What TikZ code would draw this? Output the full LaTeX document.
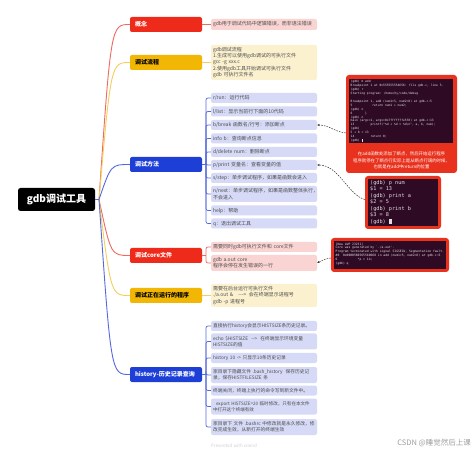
\documentclass[tikz,border=0pt]{standalone}
\usepackage{fontspec}
\setmainfont{Noto Sans CJK SC}
\newfontfamily\termfont{DejaVu Sans Mono}
\usetikzlibrary{arrows.meta}
\definecolor{cRed}{HTML}{EE2A1B}
\definecolor{cYel}{HTML}{F2B705}
\definecolor{cBlu}{HTML}{1E3FD6}
\definecolor{lRed}{HTML}{EE6A60}
\definecolor{lYel}{HTML}{F5CF5A}
\definecolor{lBlu}{HTML}{5569DE}
\definecolor{fRed}{HTML}{FAD4D2}
\definecolor{fYel}{HTML}{FCF1CF}
\definecolor{fBlu}{HTML}{D6DAF6}
\definecolor{leafTxt}{HTML}{4D4D4D}
\definecolor{termBg}{HTML}{2E0A24}
\definecolor{frameRed}{HTML}{E8321E}
\tikzset{
  rootbox/.style={fill=black, rounded corners=2.5pt, text=white, font=\fontsize{10}{12}\selectfont\bfseries, minimum width=77pt, minimum height=23pt, inner sep=0pt},
  branchbox/.style={rounded corners=2pt, minimum width=72pt, minimum height=15pt, text width=62pt, inner xsep=5pt, inner ysep=0pt, align=left, font=\fontsize{6}{7}\selectfont\bfseries},
  leafbox/.style={rounded corners=2pt, text width=102pt, inner xsep=2pt, inner ysep=0pt, align=left, text=leafTxt, font=\fontsize{5}{6.4}\selectfont},
  histleaf/.style={leafbox, fill=fBlu, font=\fontsize{4.75}{6.3}\selectfont},
  hubline/.style={line width=0.9pt},
  treeline/.style={line width=0.7pt, rounded corners=2pt},
  framebox/.style={fill=frameRed, rounded corners=3pt, inner sep=0pt},
  termbox/.style={fill=termBg, inner sep=0pt},
  termtext/.style={text=white!88!black, align=left, inner sep=0pt},
  dashconn/.style={black!80, line width=0.5pt, dash pattern=on 1.6pt off 1.1pt, -{Stealth[length=2.6pt,width=2.2pt]}},
}
\begin{document}
\begin{tikzpicture}[x=1pt,y=-1pt]
\path[use as bounding box, fill=white] (0,0) rectangle (474,454);

% root and branches
\node[rootbox] (root) at (56.5,199.5) {gdb调试工具};
\node[branchbox, fill=cRed, text=white] (b1) at (166,24.5) {概念};
\node[branchbox, fill=cYel, text=black] (b2) at (166,62.5) {调试流程};
\node[branchbox, fill=cBlu, text=white] (b3) at (166,164.5) {调试方法};
\node[branchbox, fill=cRed, text=white] (b4) at (166,255.5) {调试core文件};
\node[branchbox, fill=cYel, text=black] (b5) at (166,295.5) {调试正在运行的程序};
\node[branchbox, fill=cBlu, text=white] (b6) at (166,374.5) {history-历史记录查询};

\coordinate (hub) at (99,199.5);
\draw[hubline, lRed] (root.east) -- (hub) .. controls (111,24.5) .. (b1.west);
\draw[hubline, lYel] (root.east) -- (hub) .. controls (111,62.5) .. (b2.west);
\draw[hubline, lBlu] (root.east) -- (hub) .. controls (111,164.5) .. (b3.west);
\draw[hubline, lRed] (root.east) -- (hub) .. controls (111,255.5) .. (b4.west);
\draw[hubline, lYel] (root.east) -- (hub) .. controls (111,295.5) .. (b5.west);
\draw[hubline, lBlu] (root.east) -- (hub) .. controls (111,374.5) .. (b6.west);

% 概念
\node[leafbox, fill=fRed, minimum height=11pt] (a1) at (264,24.5) {gdb用于调试代码中逻辑错误，而非语法错误};
\draw[treeline, lRed] (b1.east) -- (a1.west);

% 调试流程
\node[leafbox, fill=fYel, minimum height=35pt] (f1) at (264,62.5) {gdb调试流程\\1.生成可以使用gdb调试的可执行文件\\gcc -g xxx.c\\2.使用gdb工具开始调试可执行文件\\gdb 可执行文件名};
\draw[treeline, lYel] (b2.east) -- (f1.west);

% 调试方法
\node[leafbox, fill=fBlu, minimum height=10pt] (m1) at (264,98) {r/run：运行代码};
\node[leafbox, fill=fBlu, minimum height=10pt] (m2) at (264,111.5) {l/list：显示当前行下面的10代码};
\node[leafbox, fill=fBlu, minimum height=10pt] (m3) at (264,125) {b/break 函数名/行号：添加断点};
\node[leafbox, fill=fBlu, minimum height=10pt] (m4) at (264,138.5) {info b：查询断点信息};
\node[leafbox, fill=fBlu, minimum height=10pt] (m5) at (264,152) {d/delete num：删除断点};
\node[leafbox, fill=fBlu, minimum height=10pt] (m6) at (264,165) {p/print 变量名：查看变量的值};
\node[leafbox, fill=fBlu, minimum height=10pt] (m7) at (264,178) {s/step：单步调试程序，如果是函数会进入};
\node[leafbox, fill=fBlu, minimum height=16pt] (m8) at (264,194) {n/next：单步调试程序，如果是函数整体执行，\\不会进入};
\node[leafbox, fill=fBlu, minimum height=10pt] (m9) at (264,210.5) {help：帮助};
\node[leafbox, fill=fBlu, minimum height=10pt] (m10) at (264,223.5) {q：退出调试工具};
\coordinate (j3) at (206,164.5);
\draw[treeline, lBlu] (b3.east) -- (j3);
\foreach \i in {1,...,10} \draw[treeline, lBlu] (j3) |- (m\i.west);

% 调试core文件
\node[leafbox, fill=fRed, minimum height=10pt] (c1) at (264,247) {需要同时gdb可执行文件和 core文件};
\node[leafbox, fill=fRed, minimum height=16pt] (c2) at (264,263) {gdb a.out core\\程序会停在发生错误的一行};
\coordinate (j4) at (206,255.5);
\draw[treeline, lRed] (b4.east) -- (j4);
\foreach \n in {c1,c2} \draw[treeline, lRed] (j4) |- (\n.west);

% 调试正在运行的程序
\node[leafbox, fill=fYel, minimum height=23pt] (r1) at (264,295.5) {需要在后台运行可执行文件\\./a.out \&\quad -{}-{}->\enspace 会在终端显示进程号\\gdb -p 进程号};
\draw[treeline, lYel] (b5.east) -- (r1.west);

% history
\node[histleaf, minimum height=10pt] (h1) at (264,326) {直接执行history会显示HISTSIZE条历史记录。};
\node[histleaf, minimum height=16pt] (h2) at (264,341.5) {echo \$HISTSIZE\ \ -{}->\ \ 在终端显示环境变量\\HISTSIZE的值};
\node[histleaf, minimum height=10pt] (h3) at (264,358) {history 10 -> 只显示10条历史记录};
\node[histleaf, minimum height=16pt] (h4) at (264,375) {家目录下隐藏文件 .bash\_history\ \ 保存历史记\\录，保存HISTFILESIZE 条};
\node[histleaf, minimum height=10pt] (h5) at (264,390.5) {终端关闭，终端上执行的命令写到新文件中。};
\node[histleaf, minimum height=16pt, font=\fontsize{4.55}{6.3}\selectfont] (h6) at (264,406.5) {\hspace*{3pt}export HISTSIZE=20 临时修改，只有在本文件\\中打开这个终端有效};
\node[histleaf, minimum height=16pt] (h7) at (264,427) {家目录下 文件 .bashrc 中修改就是永久修改，修\\改完成生效，从新打开的终端生效};
\coordinate (j6) at (206,374.5);
\draw[treeline, lBlu] (b6.east) -- (j6);
\foreach \i in {1,...,7} \draw[treeline, lBlu] (j6) |- (h\i.west);

% screenshot 1 (breakpoint)
\node[framebox, minimum width=111pt, minimum height=98pt] (img1) at (401.5,124) {};
\node[termbox, minimum width=104pt, minimum height=64pt] (t1) at (401,111) {};
\node[termtext, anchor=north west, font=\termfont\fontsize{3}{3.9}\selectfont] (t1txt) at (350.5,80.5) {(gdb) b add\\
Breakpoint 1 at 0x555555554656: file gdb.c, line 5.\\
(gdb) r\\
Starting program: /home/hy/code/debug\\
\mbox{}\\
Breakpoint 1, add (num1=5, num2=8) at gdb.c:5\\
5\ \ \ \ \ \ \ \ \ \ \ return num1 + num2;\\
(gdb) n\\
6\ \ \ \ \ \ \ \}\\
(gdb) n\\
main (argc=1, argv=0x7fffffffe5f8) at gdb.c:13\\
13\ \ \ \ \ \ \ \ \ printf("\%d + \%d = \%d\textbackslash n", a, b, num);\\
(gdb)\\
5 + 8 = 13\\
14\ \ \ \ \ \ \ \ \ return 0;\\
(gdb) \rule[-0.4pt]{1.6pt}{2.8pt}};
\node[text=white, align=center, inner sep=0pt, font=\fontsize{4.4}{6.3}\selectfont] (cap1) at (401.5,160.5) {在add函数处添加了断点，然后开始运行程序\\程序就停在了断点行实际上是从断点行调的时候，\\也就是在add中return的位置};

% screenshot 2 (print)
\node[framebox, minimum width=76pt, minimum height=53pt] (img2) at (403,202.5) {};
\node[termbox, minimum width=70pt, minimum height=47pt] (t2) at (403,202.5) {};
\node[termtext, anchor=north west, font=\termfont\fontsize{5.2}{6.5}\selectfont] (t2txt) at (370,180) {(gdb) p num\\
\$1 = 13\\
(gdb) print a\\
\$2 = 5\\
(gdb) print b\\
\$3 = 8\\
(gdb) \rule[-0.6pt]{2.6pt}{4.6pt}};

% screenshot 3 (core)
\node[framebox, minimum width=118pt, minimum height=34pt] (img3) at (390,255) {};
\node[termbox, minimum width=112pt, minimum height=28pt] (t3) at (390,255) {};
\node[termtext, anchor=north west, font=\termfont\fontsize{3.05}{3.9}\selectfont] (t3txt) at (335.5,242.5) {[New LWP 23231]\\
Core was generated by `./a.out'.\\
Program terminated with signal SIGSEGV, Segmentation fault.\\
\#0\ \ 0x00005605655b0668 in add (num1=5, num2=8) at gdb.c:6\\
6\ \ \ \ \ \ \ \ \ \ \ *p = 14;\\
(gdb) q};

% dashed links
\draw[dashconn] ([yshift=-9pt]img1.west) .. controls (335,132) and (329,125) .. (m3.east);
\draw[dashconn] ([yshift=3pt]img2.west) .. controls (348,195) and (339,165) .. (m6.east);
\draw[dashconn] ([yshift=-3pt]img3.west) .. controls (325,259) .. (c2.east);

% watermarks
\node[text=black!18, anchor=west, inner sep=0pt, font=\fontsize{4.5}{5}\selectfont] (wm1) at (211,446) {Presented with xmind};
\node[text=black!38, anchor=east, inner sep=0pt, font=\fontsize{7.5}{9}\selectfont] (wm2) at (471,443) {CSDN @睡觉然后上课};
\end{tikzpicture}
\end{document}
